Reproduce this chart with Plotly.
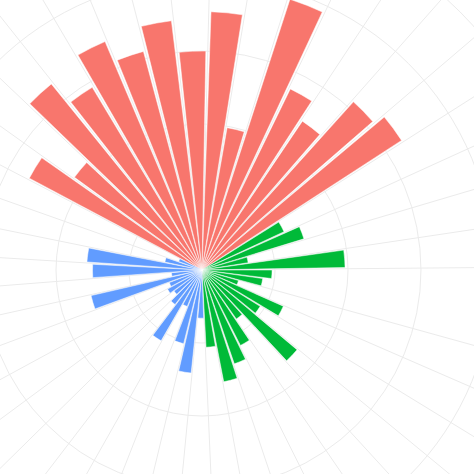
import plotly.graph_objects as go

red_theta = [148.5, 140.5, 132.5, 124.5, 116.5, 108.5, 100.5, 92.5, 84.5, 76.5, 68.5, 60.5, 52.5, 44.5, 36.5]
red_vals = [134, 108, 164, 146, 170, 155, 172, 150, 177, 99, 195, 138, 123, 155, 163]
green_theta = [28.5, 20.5, 12.5, 4.5, -3.5, -11.5, -19.5, -27.5, -35.5, -43.5, -51.5, -59.5, -67.5, -75.5, -83.5]
green_vals = [62, 73, 32, 98, 48, 42, 26, 61, 47, 85, 41, 58, 68, 78, 53]
blue_theta = [268.5, 260.5, 252.5, 244.5, 236.5, 228.5, 220.5, 212.5, 204.5, 196.5, 188.5, 180.5, 172.5, 164.5, 156.5]
blue_vals = [33, 71, 52, 27, 56, 30, 24, 27, 24, 78, 21, 75, 79, 26, 17]

fig = go.Figure()
for th, v, c in [(red_theta, red_vals, "#F8766D"), (green_theta, green_vals, "#00BA38"), (blue_theta, blue_vals, "#619CFF")]:
    fig.add_trace(go.Barpolar(theta=th, r=v, width=7, marker=dict(color=c, line=dict(color="white", width=0.5))))

fig.update_layout(
    width=800, height=800, margin=dict(l=0, r=0, t=0, b=0),
    paper_bgcolor="white", showlegend=False,
    polar=dict(
        domain=dict(x=[0, 1], y=[0, 1]), bgcolor="white",
        radialaxis=dict(range=[0, 274], dtick=50, showticklabels=False, ticks="", showline=False, gridcolor="#EBEBEB"),
        angularaxis=dict(dtick=8, tick0=0.5, showticklabels=False, ticks="", showline=False, gridcolor="#EBEBEB", direction="counterclockwise", rotation=0),
    ),
)

post = ("var d=document.getElementById('{plot_id}');document.body.style.margin='0';"
        "document.body.style.overflow='hidden';d.style.position='absolute';"
        "d.style.left='-198px';d.style.top='-130px';")
fig.write_html("out.html", post_script=post)
